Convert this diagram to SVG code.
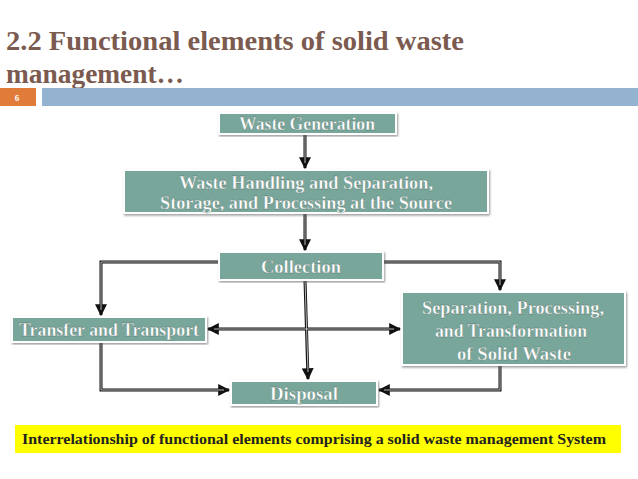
<svg xmlns="http://www.w3.org/2000/svg" width="638" height="479" viewBox="0 0 638 479">
<defs>
<marker id="ah" viewBox="0 0 10 10" refX="9" refY="5" markerWidth="4" markerHeight="4" orient="auto-start-reverse"><path d="M0,0L10,5L0,10z" fill="#111"/></marker>
<filter id="sh"><feDropShadow dx="1" dy="1.5" stdDeviation="1" flood-color="#555" flood-opacity="0.6"/></filter>
</defs>
<style>
.box{fill:#78a69a;stroke:#fff;stroke-width:2;filter:url(#sh)}
.t{font-family:"Liberation Serif",serif;font-size:18px;font-weight:bold;fill:#fff;text-anchor:middle;stroke:#4d6e66;stroke-width:0.3}
.c{fill:none;stroke:#111;stroke-width:3}
.ci{fill:none;stroke:#fff;stroke-width:0.7}
</style>
<rect width="638" height="479" fill="#fff"/>
<g id="title" font-family="Liberation Serif,serif" font-weight="bold" font-size="28" fill="#7b5a4f">
<text x="6" y="50" textLength="458" lengthAdjust="spacingAndGlyphs">2.2 Functional elements of solid waste</text>
<text x="6" y="83" textLength="178" lengthAdjust="spacingAndGlyphs">management…</text>
</g>
<rect x="0" y="88" width="36" height="18" fill="#e07b3a"/>
<text x="17" y="101" font-family="Liberation Serif,serif" font-size="9" font-weight="bold" fill="#fff" text-anchor="middle">6</text>
<rect x="42" y="88" width="596" height="18" fill="#93b3d1"/>
<g id="connectors">
<path class="c" d="M305,134V168" marker-end="url(#ah)"/>
<path class="c" d="M305,213V250" marker-end="url(#ah)"/>
<path class="c" d="M305,280L308,379" marker-end="url(#ah)"/>
<path class="c" d="M219,262H101V315" marker-end="url(#ah)"/>
<path class="c" d="M383,262H500V290" marker-end="url(#ah)"/>
<path class="c" d="M208,329H400" marker-start="url(#ah)" marker-end="url(#ah)"/>
<path class="c" d="M101,342V390H229" marker-end="url(#ah)"/>
<path class="c" d="M500,365V390H379" marker-end="url(#ah)"/>
<path class="ci" d="M305,134V163M305,213V245M305,280L308,372M219,262H101V310M383,262H500V285M214,329H394M101,342V390H224M500,365V390H384"/>
</g>
<g id="n1"><rect class="box" x="219" y="113" width="177" height="21"/><text class="t" x="307" y="130" textLength="136" lengthAdjust="spacingAndGlyphs">Waste Generation</text></g>
<g id="n2"><rect class="box" x="124" y="170" width="364" height="43"/><text class="t" x="306" y="189" textLength="254" lengthAdjust="spacingAndGlyphs">Waste Handling and Separation,</text><text class="t" x="306" y="209" textLength="292" lengthAdjust="spacingAndGlyphs">Storage, and Processing at the Source</text></g>
<g id="n3"><rect class="box" x="219" y="252" width="164" height="28"/><text class="t" x="301" y="273" textLength="80" lengthAdjust="spacingAndGlyphs">Collection</text></g>
<g id="n4"><rect class="box" x="12" y="317" width="194" height="25"/><text class="t" x="109" y="336" textLength="180" lengthAdjust="spacingAndGlyphs">Transfer and Transport</text></g>
<g id="n5"><rect class="box" x="402" y="292" width="223" height="73"/><text class="t" x="513" y="314" textLength="182" lengthAdjust="spacingAndGlyphs">Separation, Processing,</text><text class="t" x="511" y="337" textLength="152" lengthAdjust="spacingAndGlyphs">and Transformation</text><text class="t" x="514" y="360" textLength="114" lengthAdjust="spacingAndGlyphs">of Solid Waste</text></g>
<g id="n6"><rect class="box" x="231" y="381" width="146" height="24"/><text class="t" x="304" y="400" textLength="68" lengthAdjust="spacingAndGlyphs">Disposal</text></g>
<rect x="15" y="425" width="606" height="28" fill="#ffff00"/>
<text x="22" y="444" font-family="Liberation Serif,serif" font-weight="bold" font-size="14" fill="#222" textLength="584" lengthAdjust="spacingAndGlyphs">Interrelationship of functional elements comprising a solid waste management System</text>
</svg>
